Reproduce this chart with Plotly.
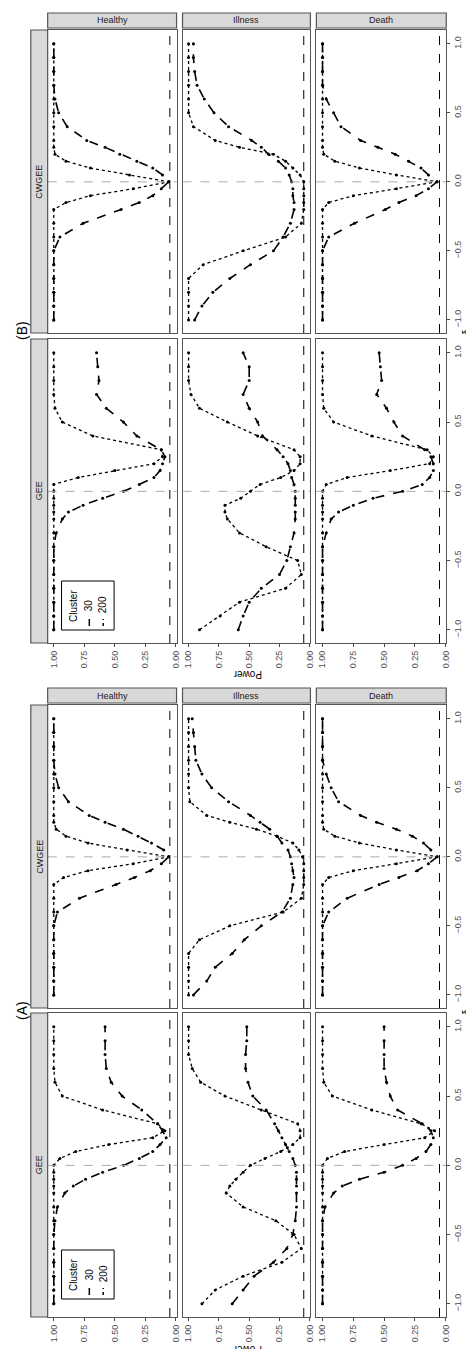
import plotly.graph_objects as go

# delta_1 grid (shared by every curve)
delta = [-1, -0.9, -0.8, -0.7, -0.6, -0.5, -0.4, -0.3, -0.2, -0.15, -0.1, -0.05, 0,
         0.05, 0.1, 0.15, 0.2, 0.25, 0.3, 0.4, 0.5, 0.6, 0.7, 0.8, 0.9, 1.0]

states = ["Healthy", "Illness", "Death"]
methods = ["GEE", "CWGEE"]

# power, (A)
a_gee_healthy_30 = [1, 1, 1, 1, 1, 1, 0.99, 0.97, 0.91, 0.84, 0.74, 0.6, 0.43, 0.3, 0.19, 0.13, 0.08, 0.11, 0.15, 0.28, 0.44, 0.53, 0.57, 0.58, 0.58, 0.58]
a_gee_healthy_200 = [1, 1, 1, 1, 1, 1, 1, 1, 1, 1, 1, 1, 1, 0.95, 0.82, 0.55, 0.19, 0.09, 0.15, 0.6, 0.93, 0.99, 1, 1, 1, 1]
a_gee_illness_30 = [0.64, 0.55, 0.46, 0.3, 0.19, 0.14, 0.12, 0.11, 0.11, 0.11, 0.11, 0.11, 0.12, 0.14, 0.17, 0.2, 0.23, 0.26, 0.29, 0.36, 0.47, 0.51, 0.53, 0.53, 0.52, 0.52]
a_gee_illness_200 = [0.89, 0.78, 0.55, 0.23, 0.07, 0.13, 0.28, 0.55, 0.69, 0.66, 0.61, 0.55, 0.49, 0.37, 0.24, 0.14, 0.08, 0.08, 0.1, 0.4, 0.7, 0.9, 0.97, 1, 1, 1]
a_gee_death_30 = [1, 1, 1, 1, 1, 1, 1, 0.98, 0.91, 0.84, 0.7, 0.5, 0.35, 0.24, 0.16, 0.12, 0.1, 0.12, 0.19, 0.39, 0.45, 0.48, 0.5, 0.5, 0.5, 0.5]
a_gee_death_200 = [1, 1, 1, 1, 1, 1, 1, 1, 1, 1, 1, 1, 1, 0.96, 0.82, 0.5, 0.17, 0.09, 0.2, 0.6, 0.92, 0.99, 1, 1, 1, 1]
a_cw_healthy_30 = [1, 1, 1, 1, 1, 1, 0.97, 0.79, 0.49, 0.34, 0.21, 0.12, 0.06, 0.1, 0.2, 0.31, 0.43, 0.58, 0.71, 0.88, 0.96, 0.99, 1, 1, 1, 1]
a_cw_healthy_200 = [1, 1, 1, 1, 1, 1, 1, 1, 1, 0.92, 0.72, 0.35, 0.06, 0.4, 0.72, 0.9, 0.98, 1, 1, 1, 1, 1, 1, 1, 1, 1]
a_cw_illness_30 = [0.96, 0.85, 0.78, 0.64, 0.54, 0.4, 0.23, 0.16, 0.14, 0.13, 0.14, 0.15, 0.16, 0.18, 0.23, 0.27, 0.33, 0.41, 0.49, 0.67, 0.81, 0.89, 0.94, 0.95, 0.96, 0.97]
a_cw_illness_200 = [1, 1, 1, 1, 0.91, 0.66, 0.22, 0.07, 0.05, 0.05, 0.05, 0.05, 0.06, 0.09, 0.14, 0.27, 0.44, 0.66, 0.85, 0.99, 1, 1, 1, 1, 1, 1]
a_cw_death_30 = [1, 1, 1, 1, 1, 1, 0.95, 0.8, 0.54, 0.38, 0.23, 0.14, 0.07, 0.12, 0.18, 0.27, 0.4, 0.56, 0.69, 0.87, 0.93, 0.97, 1, 1, 1, 1]
a_cw_death_200 = [1, 1, 1, 1, 1, 1, 1, 1, 1, 0.95, 0.75, 0.4, 0.07, 0.4, 0.7, 0.9, 0.99, 1, 1, 1, 1, 1, 1, 1, 1, 1]

# power, (B)
b_gee_healthy_30 = [1, 1, 1, 1, 1, 1, 1, 0.98, 0.93, 0.88, 0.76, 0.6, 0.43, 0.3, 0.18, 0.13, 0.11, 0.09, 0.12, 0.32, 0.43, 0.57, 0.65, 0.63, 0.64, 0.65]
b_gee_healthy_200 = [1, 1, 1, 1, 1, 1, 1, 1, 1, 1, 1, 1, 1, 1, 0.8, 0.5, 0.18, 0.11, 0.12, 0.68, 0.93, 0.99, 1, 1, 1, 1]
b_gee_illness_30 = [0.59, 0.55, 0.5, 0.4, 0.25, 0.19, 0.16, 0.13, 0.12, 0.12, 0.12, 0.12, 0.12, 0.13, 0.15, 0.16, 0.18, 0.22, 0.27, 0.39, 0.43, 0.5, 0.55, 0.5, 0.5, 0.55]
b_gee_illness_200 = [0.91, 0.74, 0.58, 0.2, 0.07, 0.1, 0.36, 0.58, 0.68, 0.7, 0.7, 0.57, 0.49, 0.41, 0.24, 0.13, 0.08, 0.08, 0.13, 0.43, 0.68, 0.91, 0.98, 1, 1, 1]
b_gee_death_30 = [1, 1, 1, 1, 1, 1, 1, 0.97, 0.93, 0.87, 0.75, 0.59, 0.35, 0.19, 0.13, 0.1, 0.1, 0.12, 0.17, 0.35, 0.42, 0.48, 0.56, 0.52, 0.53, 0.54]
b_gee_death_200 = [1, 1, 1, 1, 1, 1, 1, 1, 1, 1, 1, 1, 1, 0.97, 0.8, 0.45, 0.13, 0.1, 0.15, 0.6, 0.91, 0.99, 1, 1, 1, 1]
b_cw_healthy_30 = [1, 1, 1, 1, 1, 1, 0.95, 0.76, 0.45, 0.3, 0.19, 0.12, 0.06, 0.11, 0.19, 0.32, 0.46, 0.58, 0.73, 0.89, 0.96, 0.99, 1, 1, 1, 1]
b_cw_healthy_200 = [1, 1, 1, 1, 1, 1, 1, 1, 1, 0.9, 0.7, 0.35, 0.06, 0.38, 0.7, 0.9, 0.99, 1, 1, 1, 1, 1, 1, 1, 1, 1]
b_cw_illness_30 = [0.95, 0.89, 0.8, 0.66, 0.49, 0.3, 0.22, 0.16, 0.13, 0.13, 0.14, 0.14, 0.15, 0.17, 0.2, 0.26, 0.34, 0.4, 0.48, 0.67, 0.79, 0.87, 0.93, 0.95, 0.96, 0.96]
b_cw_illness_200 = [1, 1, 1, 1, 0.88, 0.55, 0.2, 0.07, 0.05, 0.05, 0.05, 0.05, 0.05, 0.08, 0.14, 0.2, 0.3, 0.58, 0.78, 0.96, 1, 1, 1, 1, 1, 1]
b_cw_death_30 = [1, 1, 1, 1, 1, 1, 0.95, 0.74, 0.49, 0.38, 0.24, 0.14, 0.07, 0.14, 0.2, 0.3, 0.41, 0.55, 0.69, 0.85, 0.91, 0.97, 1, 1, 1, 1]
b_cw_death_200 = [1, 1, 1, 1, 1, 1, 1, 1, 1, 0.95, 0.75, 0.4, 0.07, 0.4, 0.7, 0.9, 0.99, 1, 1, 1, 1, 1, 1, 1, 1, 1]

power_ticks = [1.0, 0.75, 0.5, 0.25, 0.0]
power_labels = ["1.00", "0.75", "0.50", "0.25", "0.00"]
delta_ticks = [-1.0, -0.5, 0.0, 0.5, 1.0]
delta_labels = ["\u22121.0", "\u22120.5", "0.0", "0.5", "1.0"]

# panel rows top -> bottom: (figure, method, curves per state)
rows = [
    ("B", "CWGEE", [(b_cw_healthy_30, b_cw_healthy_200), (b_cw_illness_30, b_cw_illness_200), (b_cw_death_30, b_cw_death_200)]),
    ("B", "GEE", [(b_gee_healthy_30, b_gee_healthy_200), (b_gee_illness_30, b_gee_illness_200), (b_gee_death_30, b_gee_death_200)]),
    ("A", "CWGEE", [(a_cw_healthy_30, a_cw_healthy_200), (a_cw_illness_30, a_cw_illness_200), (a_cw_death_30, a_cw_death_200)]),
    ("A", "GEE", [(a_gee_healthy_30, a_gee_healthy_200), (a_gee_illness_30, a_gee_illness_200), (a_gee_death_30, a_gee_death_200)]),
]

W, H = 474, 1349
col_px = [(40, 170), (176, 305), (311, 442)]
row_px = [(22, 325), (331, 635), (697, 1000), (1005, 1309)]


def px_x(p):
    return p / W


def px_y(p):
    return 1 - p / H


fig = go.Figure()
layout = {}
shapes = []
annotations = []
FAM = "Liberation Sans, Arial"
tick_font = dict(family=FAM, size=9, color="#4D4D4D")
strip_font = dict(family=FAM, size=9, color="#1A1A1A")

n = 0
for r, (figname, method, curves) in enumerate(rows):
    for c, (p30, p200) in enumerate(curves):
        n += 1
        xa = "x" if n == 1 else f"x{n}"
        ya = "y" if n == 1 else f"y{n}"
        bottom = method == "GEE"
        layout["xaxis" if n == 1 else f"xaxis{n}"] = dict(
            domain=[px_x(col_px[c][0]), px_x(col_px[c][1])], anchor=ya,
            range=[1.05, -0.005], tickvals=power_ticks, ticktext=power_labels,
            showticklabels=bottom, ticks="outside" if bottom else "", ticklen=3,
            tickangle=-90, tickfont=tick_font, showgrid=False, zeroline=False,
            showline=True, mirror=True, linecolor="#555555", linewidth=1.2)
        layout["yaxis" if n == 1 else f"yaxis{n}"] = dict(
            domain=[px_y(row_px[r][1]), px_y(row_px[r][0])], anchor=xa,
            range=[-1.095, 1.1], tickvals=delta_ticks, ticktext=delta_labels,
            side="right", showticklabels=(c == 2), ticks="outside" if c == 2 else "",
            ticklen=3, tickangle=-90, tickfont=tick_font, showgrid=False,
            zeroline=False, showline=True, mirror=True, linecolor="#555555", linewidth=1.2)
        # reference lines
        shapes.append(dict(type="line", xref=xa, yref=f"{ya} domain", x0=0.05, x1=0.05, y0=0, y1=1,
                           line=dict(color="black", width=1, dash="dash")))
        shapes.append(dict(type="line", xref=f"{xa} domain", yref=ya, x0=0, x1=1, y0=0, y1=0,
                           line=dict(color="#AAAAAA", width=1, dash="dash")))
        fig.add_trace(go.Scatter(x=p30, y=delta, xaxis=xa, yaxis=ya, mode="lines+markers",
                                 line=dict(color="black", width=1.6, dash="dash"),
                                 marker=dict(size=3, color="black"), showlegend=False))
        fig.add_trace(go.Scatter(x=p200, y=delta, xaxis=xa, yaxis=ya, mode="lines+markers",
                                 line=dict(color="black", width=1.3, dash="dot"),
                                 marker=dict(size=3, color="black"), showlegend=False))
    # method strip on the left
    shapes.append(dict(type="rect", xref="paper", yref="paper", x0=px_x(23), x1=px_x(40),
                       y0=px_y(row_px[r][1]), y1=px_y(row_px[r][0]),
                       fillcolor="#D9D9D9", line=dict(color="#555555", width=1.2)))
    annotations.append(dict(xref="paper", yref="paper", x=px_x(31.5), y=px_y(sum(row_px[r]) / 2),
                            xanchor="center", yanchor="middle",
                            text=method, showarrow=False, textangle=-90, font=strip_font))

# state strips on top of each figure
for top in (5, 680):
    for c, s in enumerate(states):
        shapes.append(dict(type="rect", xref="paper", yref="paper", x0=px_x(col_px[c][0]), x1=px_x(col_px[c][1]),
                           y0=px_y(top + 15), y1=px_y(top), fillcolor="#D9D9D9",
                           line=dict(color="#555555", width=1.2)))
        annotations.append(dict(xref="paper", yref="paper", x=px_x(sum(col_px[c]) / 2), y=px_y(top + 7.5),
                                xanchor="center", yanchor="middle",
                                text=s, showarrow=False, font=strip_font))

# figure labels and axis titles
title_font = dict(family=FAM, size=14, color="black")
axis_font = dict(family=FAM, size=10, color="black")
for lab, yc in (("(B)", 322), ("(A)", 1002)):
    annotations.append(dict(xref="paper", yref="paper", x=px_x(14), y=px_y(yc), text=lab,
                            xanchor="center", yanchor="middle",
                            showarrow=False, textangle=-90, font=title_font))
    annotations.append(dict(xref="paper", yref="paper", x=px_x(463), y=px_y(yc), text="\u03b4<sub>1</sub>",
                            xanchor="center", yanchor="middle",
                            showarrow=False, textangle=-90, font=axis_font))
for yc in (667, 1342):
    annotations.append(dict(xref="paper", yref="paper", x=px_x(241), y=px_y(yc), text="Power",
                            xanchor="center", yanchor="middle",
                            showarrow=False, textangle=180, font=axis_font))

# in-panel legend (GEE / Healthy panels)
leg_font = dict(family=FAM, size=10, color="black")
for box_top in (573, 1242):
    shapes.append(dict(type="rect", xref="paper", yref="paper", x0=px_x(54), x1=px_x(107),
                       y0=px_y(box_top + 49), y1=px_y(box_top), fillcolor="white",
                       line=dict(color="black", width=1)))
    annotations.append(dict(xref="paper", yref="paper", x=px_x(66), y=px_y(box_top + 24.5), text="Cluster",
                            xanchor="center", yanchor="middle",
                            showarrow=False, textangle=-90, font=leg_font))
    for xc, lab, dash in ((82, "30", "dash"), (96, "200", "dot")):
        shapes.append(dict(type="line", xref="paper", yref="paper", x0=px_x(xc), x1=px_x(xc),
                           y0=px_y(box_top + 45), y1=px_y(box_top + 38),
                           line=dict(color="black", width=1.5, dash=dash)))
        annotations.append(dict(xref="paper", yref="paper", x=px_x(xc), y=px_y(box_top + 24),
                                xanchor="center", yanchor="middle",
                                text=lab, showarrow=False, textangle=-90, font=leg_font))

fig.update_layout(width=W, height=H, margin=dict(l=0, r=0, t=0, b=0),
                  plot_bgcolor="white", paper_bgcolor="white",
                  shapes=shapes, annotations=annotations, **layout)
fig.write_html("out.html")
